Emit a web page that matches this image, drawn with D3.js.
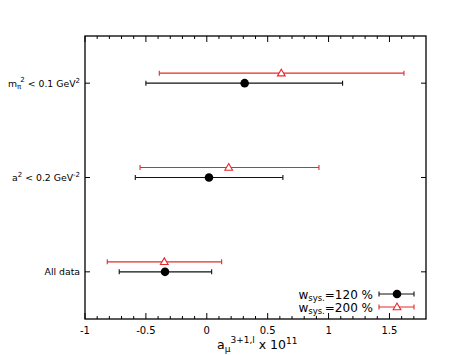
<!DOCTYPE html>
<html><head><meta charset="utf-8">
<script src="https://cdn.jsdelivr.net/npm/d3@7"></script>
<style>body{margin:0;background:#fff}svg{display:block;font-family:"DejaVu Sans",sans-serif}</style>
</head><body>
<svg id="c" width="474" height="355"></svg>
<script>
const categories = ["All data", "a2", "mpi2"];
const blackCenter = [-0.343, 0.018, 0.311];
const blackLo = [-0.719, -0.587, -0.500];
const blackHi = [0.040, 0.625, 1.115];
const redCenter = [-0.349, 0.180, 0.612];
const redLo = [-0.817, -0.548, -0.390];
const redHi = [0.122, 0.921, 1.619];
const xTicks = [-1, -0.5, 0, 0.5, 1, 1.5];
const legendLabels = ["120", "200"];

const svg = d3.select("#c");
const L = 85, R = 426, T = 36, B = 319;
const x = d3.scaleLinear().domain([-1, 1.8]).range([L, R]);
const y = d3.scaleLinear().domain([-0.5, 2.5]).range([B, T]);
const BLACK = "#111", RED = "#e6282b";

// frame
svg.append("rect").attr("x", L).attr("y", T).attr("width", R - L).attr("height", B - T)
  .attr("fill", "none").attr("stroke", "#000").attr("stroke-width", 1.3);

// ticks
const minor = d3.range(-10, 18).map(i => i / 10).filter(v => Math.abs(v * 2 - Math.round(v * 2)) > 1e-6);
const g = svg.append("g").attr("stroke", "#000").attr("stroke-width", 1);
minor.forEach(v => {
  g.append("line").attr("x1", x(v)).attr("x2", x(v)).attr("y1", B).attr("y2", B - 3);
  g.append("line").attr("x1", x(v)).attr("x2", x(v)).attr("y1", T).attr("y2", T + 3);
});
xTicks.forEach(v => {
  g.append("line").attr("x1", x(v)).attr("x2", x(v)).attr("y1", B).attr("y2", B - 6);
  g.append("line").attr("x1", x(v)).attr("x2", x(v)).attr("y1", T).attr("y2", T + 6);
});
categories.forEach((c, i) => {
  g.append("line").attr("x1", L).attr("x2", L + 5).attr("y1", y(i)).attr("y2", y(i));
  g.append("line").attr("x1", R).attr("x2", R - 5).attr("y1", y(i)).attr("y2", y(i));
});

// x tick labels
svg.append("g").selectAll("text").data(xTicks).join("text")
  .attr("x", d => x(d)).attr("y", 334).attr("text-anchor", "middle")
  .attr("font-size", 10).attr("fill", "#000").text(d => d);

// y labels
const yl = svg.append("g").attr("font-size", 9.3).attr("fill", "#000");
yl.append("text").attr("x", 80).attr("y", y(0) + 3.5).attr("text-anchor", "end").text("All data");
let t1 = yl.append("text").attr("x", 80).attr("y", y(1) + 3.5).attr("text-anchor", "end");
t1.append("tspan").text("a");
t1.append("tspan").attr("dy", -4).attr("font-size", 7).text("2");
t1.append("tspan").attr("dy", 4).text(" < 0.2 GeV");
t1.append("tspan").attr("dy", -4).attr("font-size", 7).text("-2");
let t2 = yl.append("text").attr("x", 80).attr("y", y(2) + 3.5).attr("text-anchor", "end");
t2.append("tspan").text("m");
t2.append("tspan").attr("dy", 2.5).attr("font-size", 7).text("π");
t2.append("tspan").attr("dy", -7).attr("font-size", 7).attr("dx", -1).text("2");
t2.append("tspan").attr("dy", 4.5).text(" < 0.1 GeV");
t2.append("tspan").attr("dy", -4).attr("font-size", 7).text("2");

// x axis title
const xt = svg.append("text").attr("x", 217).attr("y", 349).attr("font-size", 12.5).attr("fill", "#000");
xt.append("tspan").text("a");
xt.append("tspan").attr("dy", 3).attr("font-size", 9).text("μ");
xt.append("tspan").attr("dy", -9.5).attr("font-size", 9).text("3+1,l");
xt.append("tspan").attr("dy", 6.5).text(" x 10");
xt.append("tspan").attr("dy", -5).attr("font-size", 9).text("11");

const off = 10;
function errbar(sel, x1, x2, yy, color) {
  sel.append("line").attr("x1", x1).attr("x2", x2).attr("y1", yy).attr("y2", yy).attr("stroke", color).attr("stroke-width", 1.1);
  [x1, x2].forEach(xx => sel.append("line").attr("x1", xx).attr("x2", xx).attr("y1", yy - 2.5).attr("y2", yy + 2.5).attr("stroke", color).attr("stroke-width", 1.1));
}
const tri = d3.symbol().type(d3.symbolTriangle).size(26);
const data = svg.append("g");
categories.forEach((c, i) => {
  errbar(data, x(redLo[i]), x(redHi[i]), y(i) - off, RED);
  data.append("path").attr("d", tri).attr("transform", `translate(${x(redCenter[i])},${y(i) - off + 0.5})`)
    .attr("fill", "#fff").attr("stroke", RED).attr("stroke-width", 1.1);
  errbar(data, x(blackLo[i]), x(blackHi[i]), y(i), BLACK);
  data.append("circle").attr("cx", x(blackCenter[i])).attr("cy", y(i)).attr("r", 4.3).attr("fill", "#000");
});

// legend
const leg = svg.append("g");
legendLabels.forEach((lab, i) => {
  const yy = 294 + i * 13;
  const t = leg.append("text").attr("x", 373).attr("y", yy + 4.5).attr("text-anchor", "end").attr("font-size", 12).attr("fill", "#000");
  t.append("tspan").text("w");
  t.append("tspan").attr("dy", 2).attr("font-size", 8.5).text("sys.");
  t.append("tspan").attr("dy", -2).text("=" + lab + " %");
  const col = i === 0 ? BLACK : RED;
  errbar(leg, 379, 414, yy, col);
  if (i === 0) leg.append("circle").attr("cx", 397).attr("cy", yy).attr("r", 4.3).attr("fill", "#000");
  else leg.append("path").attr("d", tri).attr("transform", `translate(397,${yy + 0.5})`).attr("fill", "#fff").attr("stroke", RED).attr("stroke-width", 1.1);
});
</script>
</body></html>
